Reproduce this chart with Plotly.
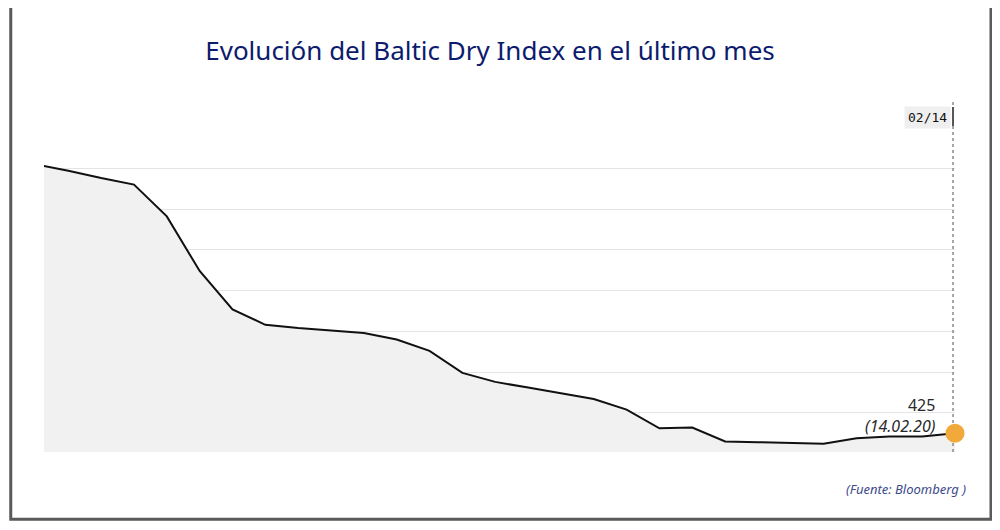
import plotly.graph_objects as go

# sesiones (días hábiles) del 07.01.20 al 14.02.20
fechas = ["01/07", "01/08", "01/09", "01/10", "01/13", "01/14", "01/15", "01/16", "01/17",
          "01/20", "01/21", "01/22", "01/23", "01/24", "01/27", "01/28", "01/29", "01/30",
          "01/31", "02/03", "02/04", "02/05", "02/06", "02/07", "02/10", "02/11", "02/12",
          "02/13", "02/14"]
bdi = [755, 747, 738, 730, 691, 624, 577, 558, 554, 551, 548, 540, 526, 499, 488, 481, 474,
       467, 454, 431, 432, 415, 414, 413, 412, 419, 421, 421, 425]

grid_vals = [450, 500, 550, 600, 650, 700, 750]

TITULO = "Evolución del Baltic Dry Index en el último mes"
FUENTE = "(Fuente: Bloomberg )"
NAVY = "#0d1b6e"
ultimo = len(fechas) - 1

# la página html añade 8px de margen al body, se descuentan aquí
W, H = 992, 522

fig = go.Figure()
fig.add_trace(go.Scatter(x=fechas, y=bdi, mode="lines", fill="tozeroy",
                         fillcolor="#f1f1f1", line=dict(color="#111111", width=2),
                         hoverinfo="skip", showlegend=False))
fig.add_trace(go.Scatter(x=[fechas[-1]], y=[bdi[-1]], mode="markers",
                         marker=dict(color="#f2a93b", size=19, line=dict(width=0)),
                         hoverinfo="skip", showlegend=False, cliponaxis=False))

# marco exterior
fig.add_shape(type="rect", xref="paper", yref="paper", x0=-0.0365, x1=1.0395,
              y0=-0.1908, y1=1.2665, line=dict(color="#5a5a5a", width=3))
# linea vertical punteada (cortada donde está el punto naranja)
for y0, y1 in [(0, 0.026), (0.082, 1)]:
    fig.add_shape(type="line", xref="x", yref="paper", x0=ultimo - 0.06, x1=ultimo - 0.06,
                  y0=y0, y1=y1, line=dict(color="#8a8a8a", width=1.5, dash="dot"))
# barra oscura de la etiqueta de fecha
fig.add_shape(type="line", xref="x", yref="paper", x0=ultimo - 0.06, x1=ultimo - 0.06,
              y0=(452 - 126) / 353, y1=(452 - 107) / 353,
              line=dict(color="#555555", width=2))

fig.add_annotation(x=ultimo - 0.12, y=(452 - 117) / 353, xref="x", yref="paper",
                   xanchor="right", yanchor="middle", text="02/14", showarrow=False,
                   bgcolor="#efefef", borderpad=3,
                   font=dict(family="DejaVu Sans Mono", size=13, color="#111111"))
fig.add_annotation(x=ultimo, y=bdi[-1], xref="x", yref="y", xanchor="right",
                   yanchor="middle", xshift=-18, yshift=18, align="right",
                   text=f"{bdi[-1]}<br><i>(14.02.20)</i>", showarrow=False,
                   font=dict(family="Noto Sans", size=16, color="#2a2a2a"))
fig.add_annotation(x=(968 - 44) / 911, y=(452 - 489) / 353, xref="paper", yref="paper",
                   xanchor="right", yanchor="middle", text=f"<i>{FUENTE}</i>",
                   showarrow=False,
                   font=dict(family="Noto Sans", size=13, color="#3c4a8c"))

fig.update_layout(
    width=W, height=H, autosize=False,
    margin=dict(l=36, r=45, t=91, b=78),
    paper_bgcolor="white", plot_bgcolor="white",
    title=dict(text=TITULO, x=482 / W, xanchor="center", y=1 - 43 / H, yanchor="middle",
               font=dict(family="Noto Sans", size=26, color=NAVY)),
    xaxis=dict(type="category", range=[0.26, ultimo], showgrid=False, zeroline=False,
               showticklabels=False, showline=False, ticks=""),
    yaxis=dict(range=[402, 835], tickvals=grid_vals, showticklabels=False,
               gridcolor="#e4e4e4", gridwidth=1, zeroline=False, showline=False),
)

fig.write_html("out.html")
